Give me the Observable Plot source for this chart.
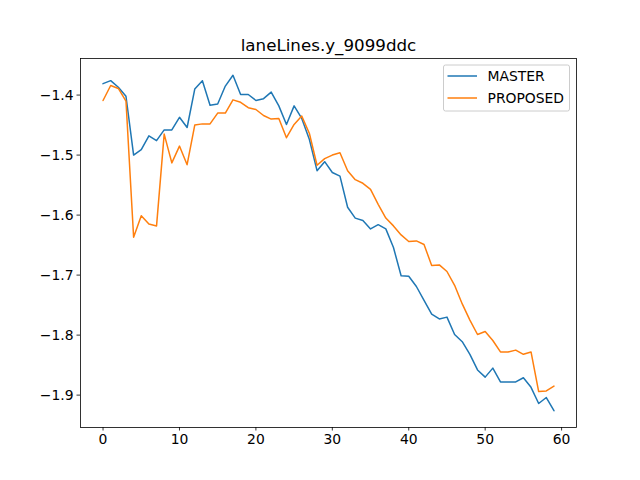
<!DOCTYPE html>
<html>
<head>
<meta charset="utf-8">
<script src="https://cdn.jsdelivr.net/npm/d3@7"></script>
<script src="https://cdn.jsdelivr.net/npm/@observablehq/plot@0.6"></script>
<style>
  html, body { margin: 0; padding: 0; background: #fff; }
</style>
</head>
<body>
<div id="chart"></div>
<script>
const title = "laneLines.y_9099ddc";
const seriesNames = ["MASTER", "PROPOSED"];
const seriesColors = ["#1f77b4", "#ff7f0e"];
const xTicks = [0, 10, 20, 30, 40, 50, 60];
const yTicks = [-1.9, -1.8, -1.7, -1.6, -1.5, -1.4];

const master = [
  -1.381, -1.376, -1.387, -1.402, -1.500, -1.491, -1.468, -1.476, -1.458, -1.458,
  -1.437, -1.454, -1.390, -1.376, -1.417, -1.415, -1.385, -1.367, -1.399, -1.399,
  -1.409, -1.406, -1.395, -1.418, -1.449, -1.418, -1.439, -1.474, -1.526, -1.511,
  -1.529, -1.535, -1.587, -1.605, -1.609, -1.623, -1.616, -1.623, -1.654, -1.701,
  -1.702, -1.719, -1.742, -1.765, -1.773, -1.770, -1.799, -1.811, -1.832, -1.858,
  -1.870, -1.855, -1.878, -1.878, -1.878, -1.871, -1.887, -1.914, -1.904, -1.926
];
const proposed = [
  -1.409, -1.384, -1.389, -1.410, -1.637, -1.601, -1.615, -1.618, -1.465, -1.513,
  -1.485, -1.516, -1.450, -1.448, -1.448, -1.430, -1.430, -1.408, -1.412, -1.421,
  -1.424, -1.434, -1.440, -1.439, -1.471, -1.449, -1.435, -1.464, -1.517, -1.506,
  -1.500, -1.496, -1.526, -1.541, -1.547, -1.557, -1.582, -1.605, -1.618, -1.633,
  -1.644, -1.643, -1.649, -1.684, -1.683, -1.694, -1.717, -1.748, -1.775, -1.799,
  -1.794, -1.809, -1.828, -1.828, -1.825, -1.832, -1.828, -1.894, -1.893, -1.885
];

const rows = [];
[master, proposed].forEach((arr, s) => arr.forEach((v, i) => rows.push({i, v, s: seriesNames[s]})));

const n = master.length - 1;
const all = master.concat(proposed);
const ymin = d3.min(all), ymax = d3.max(all);
const xpad = n * 0.05, ypad = (ymax - ymin) * 0.05;

const fmt = d3.format(".1f");

const chart = Plot.plot({
  width: 640,
  height: 480,
  marginLeft: 80,
  marginRight: 64,
  marginTop: 58,
  marginBottom: 53,
  style: {fontFamily: "DejaVu Sans", fontSize: "14px", background: "#fff", color: "#000"},
  x: {domain: [-xpad, n + xpad]},
  y: {domain: [ymin - ypad, ymax + ypad]},
  color: {domain: seriesNames, range: seriesColors},
  marks: [
    Plot.line(rows, {x: "i", y: "v", z: "s", stroke: "s", strokeWidth: 1.5}),
    Plot.frame({stroke: "#000", strokeWidth: 0.8, strokeOpacity: 1}),
    Plot.axisX({ticks: xTicks, tickSize: 3.5, tickPadding: 3.5, fontSize: 13.9, label: null, strokeWidth: 0.8, tickFormat: d => String(d)}),
    Plot.axisY({ticks: yTicks, tickSize: 3.5, tickPadding: 3.5, fontSize: 13.9, label: null, strokeWidth: 0.8, tickFormat: fmt}),
    Plot.text([title], {frameAnchor: "top", lineAnchor: "bottom", dy: -8, fontSize: 16.7, text: d => d, fill: "#000"})
  ]
});

// legend (matplotlib style, upper right)
const svg = d3.select(chart);
const lg = svg.append("g").attr("font-family", "DejaVu Sans").attr("font-size", 13.9).attr("text-anchor", "start");
lg.append("rect").attr("x", 443.5).attr("y", 65).attr("width", 126).attr("height", 46)
  .attr("rx", 2).attr("fill", "#fff").attr("fill-opacity", 0.8).attr("stroke", "#ccc").attr("stroke-width", 1);
seriesNames.forEach((name, k) => {
  const cy = 76 + k * 22;
  lg.append("line").attr("x1", 447.5).attr("x2", 477).attr("y1", cy).attr("y2", cy)
    .attr("stroke", seriesColors[k]).attr("stroke-width", 1.5);
  lg.append("text").attr("x", 487.5).attr("y", cy).attr("dy", "0.36em").attr("fill", "#000").text(name);
});

document.getElementById("chart").appendChild(chart);
</script>
</body>
</html>
